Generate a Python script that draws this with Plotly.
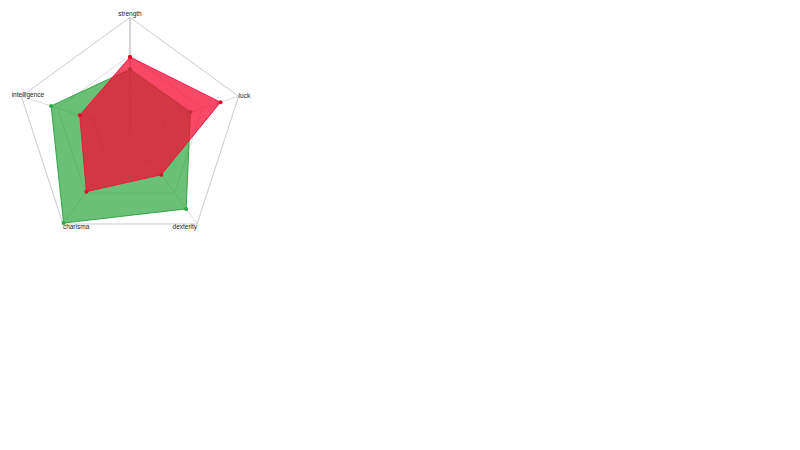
import plotly.graph_objects as go

stats = ['strength', 'luck', 'dexterity', 'charisma', 'intelligence']
red_vals = [19.6, 25.0, 14.0, 19.5, 13.9]
green_vals = [16.4, 16.7, 25.1, 29.7, 21.8]
r_max = 30

# close the polygons
theta = stats + stats[:1]

# label placement (intelligence pulled in a little so it stays on the page)
label_r = [r_max, r_max, r_max, r_max, r_max * 0.94]
label_pos = ['top center', 'middle right', 'bottom left', 'bottom right', 'top center']

fig = go.Figure()
fig.add_trace(go.Scatterpolar(
    r=green_vals + green_vals[:1], theta=theta, mode='lines+markers',
    fill='toself', fillcolor='rgba(30,160,50,0.66)',
    line=dict(color='rgba(40,160,60,0.9)', width=1),
    marker=dict(color='rgb(40,170,70)', size=4),
    name='green'))
fig.add_trace(go.Scatterpolar(
    r=red_vals + red_vals[:1], theta=theta, mode='lines+markers',
    fill='toself', fillcolor='rgba(245,8,48,0.74)',
    line=dict(color='rgba(240,20,60,0.9)', width=1),
    marker=dict(color='rgb(225,10,40)', size=4),
    name='red'))
fig.add_trace(go.Scatterpolar(
    r=label_r, theta=stats, mode='text', text=stats,
    textposition=label_pos,
    textfont=dict(size=6.5, color='#222'),
    cliponaxis=False, hoverinfo='skip'))

fig.update_layout(
    width=800, height=450,
    template='none',
    paper_bgcolor='white',
    showlegend=False,
    margin=dict(l=0, r=0, t=0, b=0),
    font=dict(family='Liberation Sans, Arial, sans-serif', size=6.5, color='#222'),
    polar=dict(
        domain=dict(x=[0.0, 0.305], y=[0.4716, 0.9791]),
        bgcolor='white',
        gridshape='linear',
        radialaxis=dict(range=[0, r_max], dtick=10, showticklabels=False, ticks='',
                        showline=True, linecolor='#bbb', linewidth=1,
                        gridcolor='#ddd', angle=90, layer='below traces'),
        angularaxis=dict(rotation=90, direction='clockwise', ticks='',
                         showticklabels=False, layer='below traces',
                         linecolor='#ccc', gridcolor='#ddd', showline=True),
    ),
)

fig.write_html('out.html')
